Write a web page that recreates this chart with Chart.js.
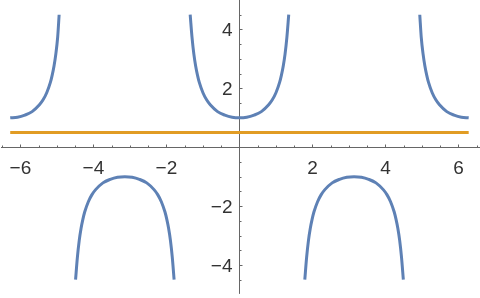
<!DOCTYPE html>
<html>
<head>
<meta charset="utf-8">
<script src="https://cdn.jsdelivr.net/npm/chart.js@4/dist/chart.umd.min.js"></script>
<style>
  html, body { margin: 0; padding: 0; background: #fff; }
  #wrap { width: 480px; height: 298px; }
</style>
</head>
<body>
<div id="wrap"><canvas id="secChart"></canvas></div>
<script>
// values (upper branches, lower branches, flat line)
const leftUpX  = [-6.28, -6.08, -5.88, -5.68, -5.48, -5.38, -5.28, -5.18, -5.13, -5.08, -5.03, -4.98, -4.94];
const leftUpY  = [1.00, 1.02, 1.09, 1.21, 1.44, 1.61, 1.85, 2.20, 2.45, 2.76, 3.17, 3.74, 4.50];
const midUpX   = [-1.35, -1.30, -1.25, -1.20, -1.15, -1.10, -1.00, -0.90, -0.80, -0.60, -0.40, -0.20, 0,
                  0.20, 0.40, 0.60, 0.80, 0.90, 1.00, 1.10, 1.15, 1.20, 1.25, 1.30, 1.35];
const midUpY   = [4.50, 3.74, 3.17, 2.76, 2.45, 2.20, 1.85, 1.61, 1.44, 1.21, 1.09, 1.02, 1.00,
                  1.02, 1.09, 1.21, 1.44, 1.61, 1.85, 2.20, 2.45, 2.76, 3.17, 3.74, 4.50];
const rightUpX = [4.94, 4.98, 5.03, 5.08, 5.13, 5.18, 5.28, 5.38, 5.48, 5.68, 5.88, 6.08, 6.28];
const rightUpY = [4.50, 3.74, 3.17, 2.76, 2.45, 2.20, 1.85, 1.61, 1.44, 1.21, 1.09, 1.02, 1.00];
const leftDownX  = [-4.49, -4.44, -4.39, -4.34, -4.29, -4.24, -4.14, -4.04, -3.94, -3.74, -3.54, -3.34, -3.14,
                    -2.94, -2.74, -2.54, -2.34, -2.24, -2.14, -2.04, -1.99, -1.94, -1.89, -1.84, -1.79];
const rightDownX = [1.79, 1.84, 1.89, 1.94, 1.99, 2.04, 2.14, 2.24, 2.34, 2.54, 2.74, 2.94, 3.14,
                    3.34, 3.54, 3.74, 3.94, 4.04, 4.14, 4.24, 4.29, 4.34, 4.39, 4.44, 4.49];
const downY = [-4.50, -3.74, -3.17, -2.76, -2.45, -2.20, -1.85, -1.61, -1.44, -1.21, -1.09, -1.02, -1.00,
               -1.02, -1.09, -1.21, -1.44, -1.61, -1.85, -2.20, -2.45, -2.76, -3.17, -3.74, -4.50];
const flatX = [-6.28, 6.28];
const flatY = [0.5, 0.5];

const xTickLabels = [-6, -4, -2, 2, 4, 6];
const yTickLabels = [-4, -2, 2, 4];

const blue = '#5E81B5';
const orange = '#E19C24';

function pts(xs, ys) {
    return xs.map((x, i) => ({ x: x, y: ys[i] }));
}

function branch(xs, ys, color) {
    return {
        data: pts(xs, ys),
        borderColor: color,
        borderWidth: 3,
        pointRadius: 0,
        showLine: true,
        fill: false,
        cubicInterpolationMode: 'monotone'
    };
}

function fmt(v) {
    return v < 0 ? '\u2212' + Math.abs(v) : String(v);
}

// axes drawn through the middle like Mathematica
const centerAxes = {
    id: 'centerAxes',
    beforeDatasetsDraw(chart) {
        const ctx = chart.ctx;
        const xs = chart.scales.x;
        const ys = chart.scales.y;
        const x0 = Math.floor(xs.getPixelForValue(0)) + 0.5;
        const y0 = Math.floor(ys.getPixelForValue(0)) + 0.5;
        ctx.save();
        ctx.strokeStyle = '#666';
        ctx.lineWidth = 1;
        ctx.beginPath();
        ctx.moveTo(1, y0);
        ctx.lineTo(chart.width, y0);
        ctx.moveTo(x0, 0);
        ctx.lineTo(x0, ys.getPixelForValue(-4.98));
        // minor ticks every 0.5, longer at labelled ones
        for (let v = -6.5; v <= 6.5; v += 0.5) {
            if (v === 0) continue;
            const px = Math.round(xs.getPixelForValue(v)) + 0.5;
            const len = xTickLabels.includes(v) ? 3 : 2;
            ctx.moveTo(px, y0);
            ctx.lineTo(px, y0 - len);
        }
        for (let v = -4.5; v <= 4.5; v += 0.5) {
            if (v === 0) continue;
            const py = Math.round(ys.getPixelForValue(v)) + 0.5;
            const len = yTickLabels.includes(v) ? 3 : 2;
            ctx.moveTo(x0, py);
            ctx.lineTo(x0 + len, py);
        }
        ctx.stroke();

        ctx.fillStyle = '#333';
        ctx.font = '19px "Liberation Sans", Arial, sans-serif';
        ctx.textBaseline = 'alphabetic';
        ctx.textAlign = 'center';
        xTickLabels.forEach(v => {
            ctx.fillText(fmt(v), xs.getPixelForValue(v), y0 + 26);
        });
        ctx.textAlign = 'right';
        yTickLabels.forEach(v => {
            ctx.fillText(fmt(v), x0 - 7, ys.getPixelForValue(v) + 7);
        });
        ctx.restore();
    }
};

const ctx = document.getElementById('secChart').getContext('2d');
const secChart = new Chart(ctx, {
    type: 'scatter',
    data: {
        datasets: [
            branch(leftUpX, leftUpY, blue),
            branch(midUpX, midUpY, blue),
            branch(rightUpX, rightUpY, blue),
            branch(leftDownX, downY, blue),
            branch(rightDownX, downY, blue),
            branch(flatX, flatY, orange)
        ]
    },
    options: {
        responsive: true,
        maintainAspectRatio: false,
        animation: false,
        layout: { padding: 0 },
        plugins: {
            legend: { display: false },
            tooltip: { enabled: false }
        },
        scales: {
            x: { type: 'linear', min: -6.56, max: 6.59, display: false },
            y: { type: 'linear', min: -5.12, max: 5.0, display: false }
        }
    },
    plugins: [centerAxes]
});
</script>
</body>
</html>
